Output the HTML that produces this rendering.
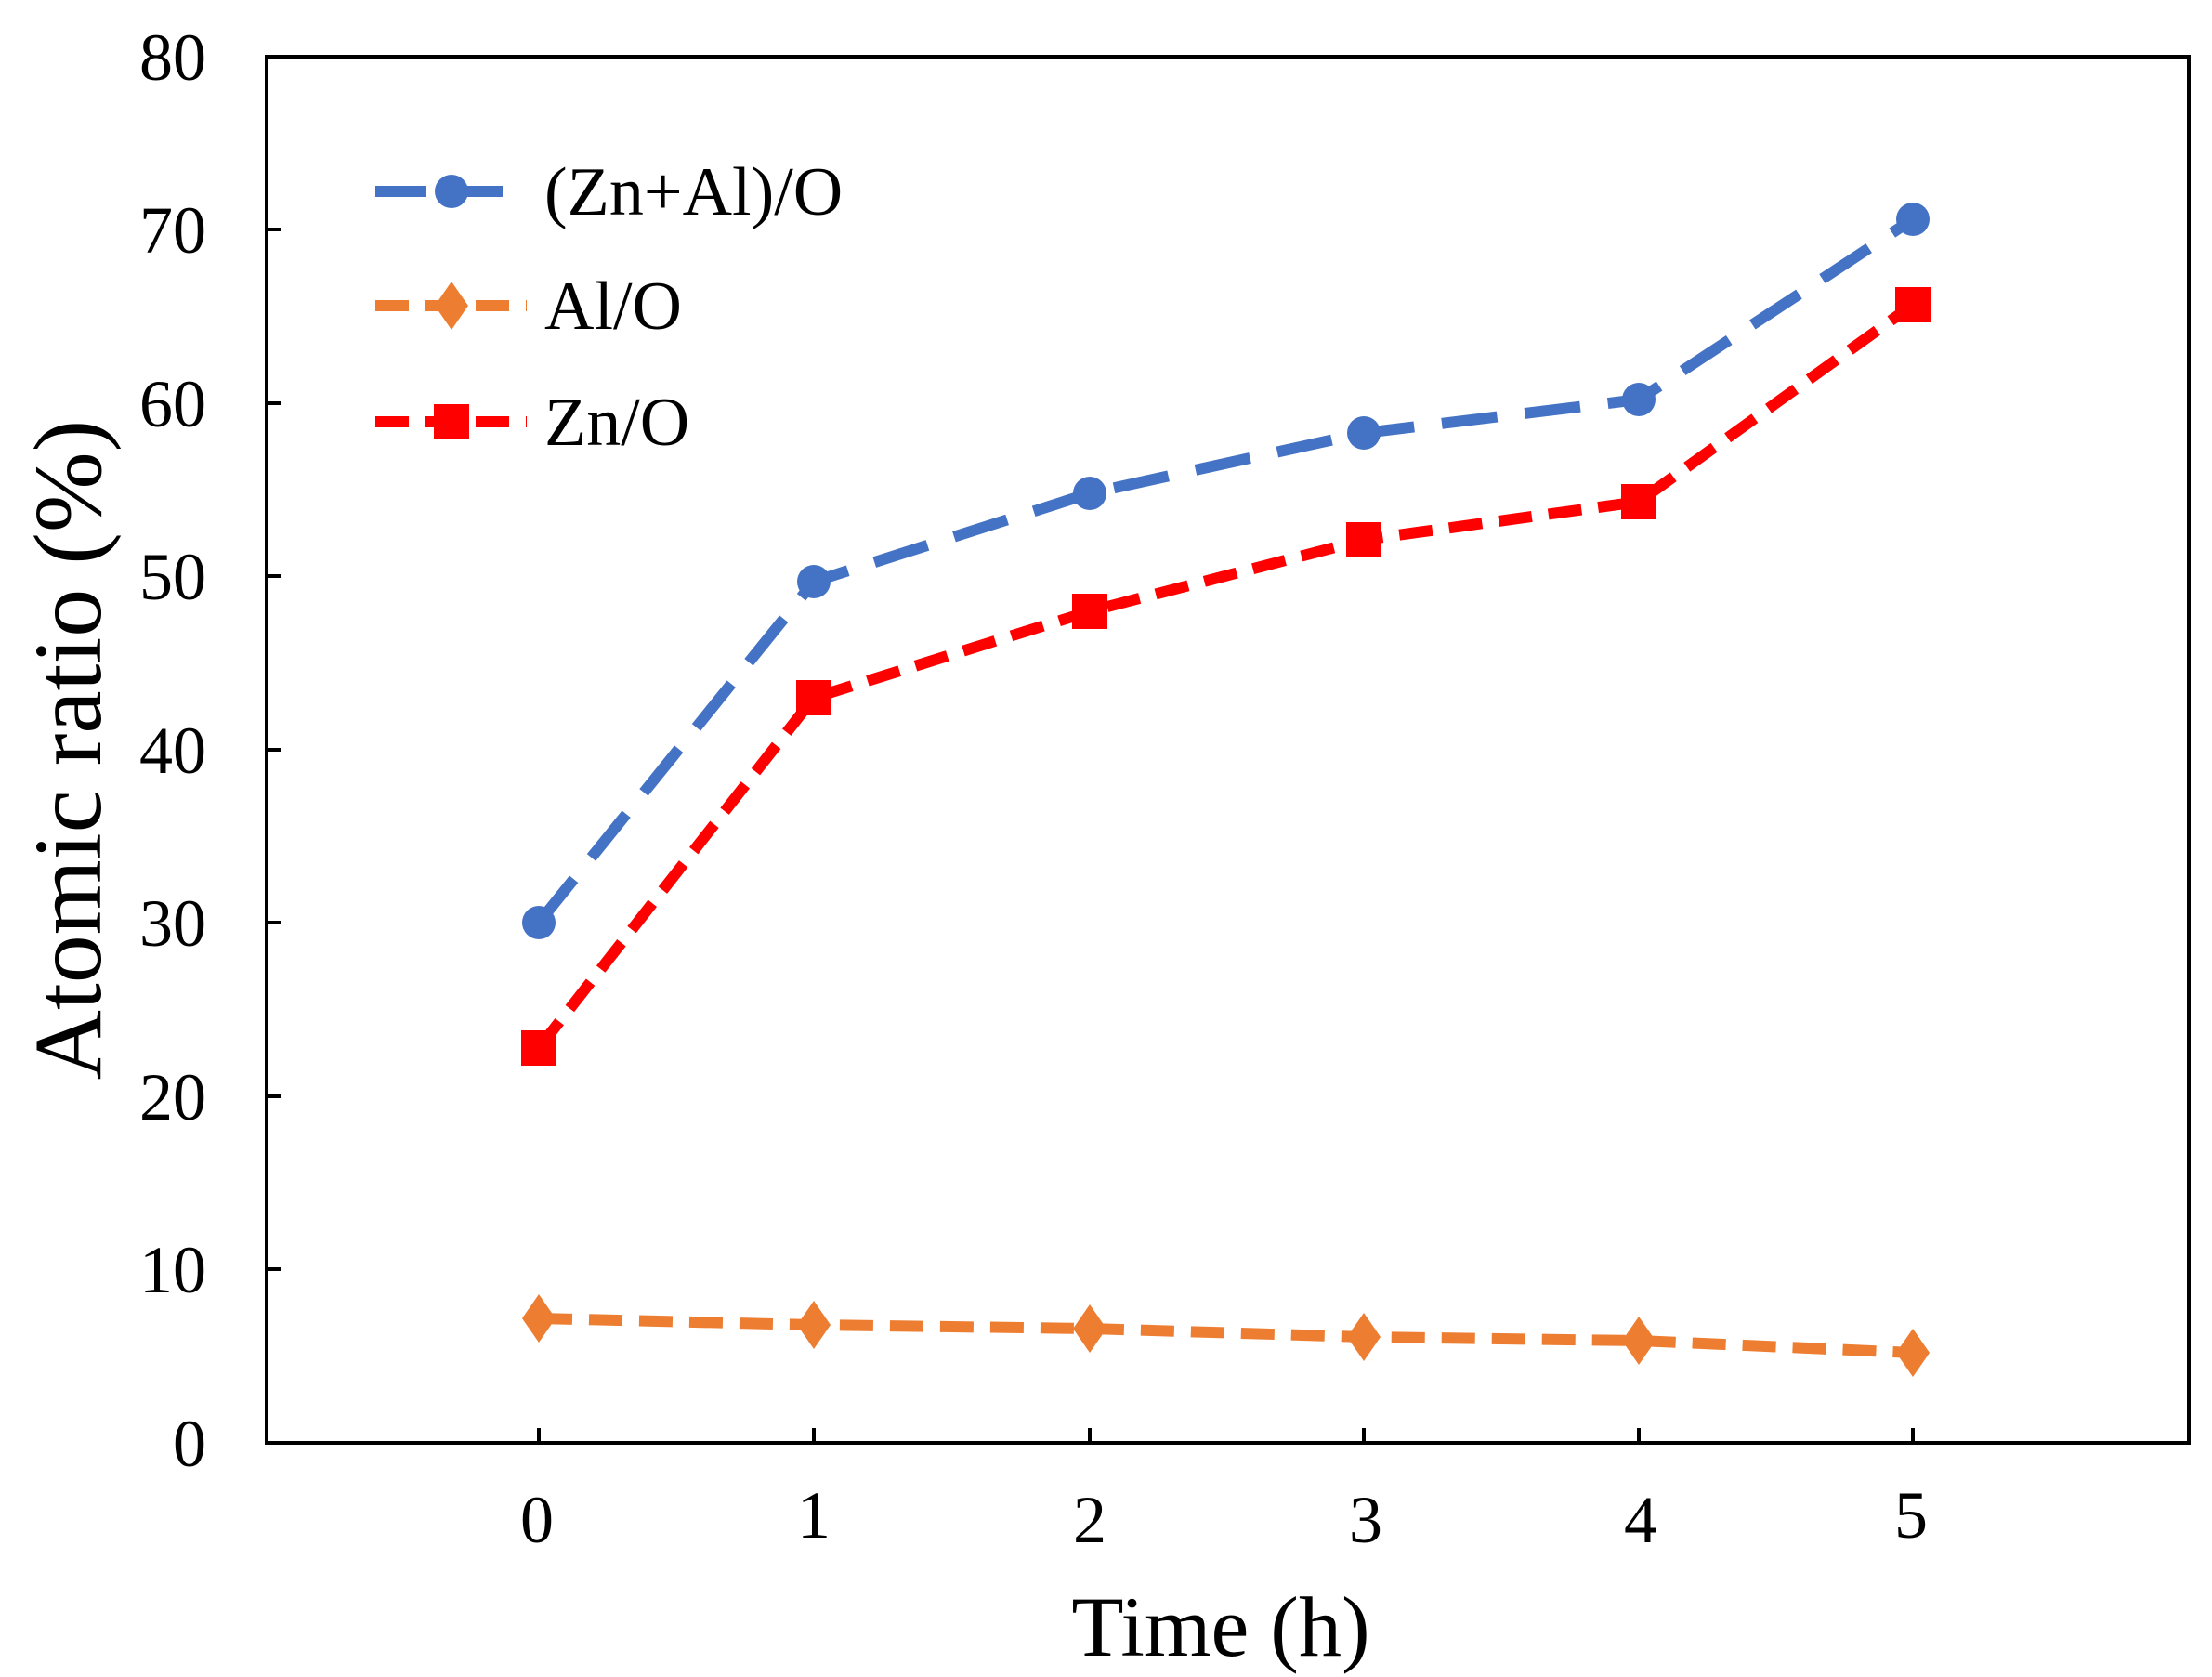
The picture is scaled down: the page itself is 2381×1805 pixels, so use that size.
<!DOCTYPE html>
<html><head><style>body{margin:0;background:#fff}svg{display:block}</style></head><body>
<svg width="2381" height="1805" xmlns="http://www.w3.org/2000/svg" font-family="Liberation Serif, serif">
<rect width="2381" height="1805" fill="#fff"/>
<rect x="287" y="61" width="2069" height="1492" fill="none" stroke="#000" stroke-width="4"/>
<g stroke="#000" stroke-width="4">
<line x1="287" y1="1366" x2="303" y2="1366"/><line x1="287" y1="1180" x2="303" y2="1180"/><line x1="287" y1="993" x2="303" y2="993"/><line x1="287" y1="807" x2="303" y2="807"/><line x1="287" y1="620" x2="303" y2="620"/><line x1="287" y1="434" x2="303" y2="434"/><line x1="287" y1="247" x2="303" y2="247"/>
<line x1="580" y1="1553" x2="580" y2="1537"/><line x1="876" y1="1553" x2="876" y2="1537"/><line x1="1173" y1="1553" x2="1173" y2="1537"/><line x1="1468" y1="1553" x2="1468" y2="1537"/><line x1="1764" y1="1553" x2="1764" y2="1537"/><line x1="2059" y1="1553" x2="2059" y2="1537"/>
</g>
<g font-size="72" text-anchor="end" fill="#000">
<text x="222" y="1578">0</text><text x="222" y="1391">10</text><text x="222" y="1205">20</text><text x="222" y="1018">30</text><text x="222" y="832">40</text><text x="222" y="645">50</text><text x="222" y="459">60</text><text x="222" y="272">70</text><text x="222" y="86">80</text>
</g>
<g font-size="72" text-anchor="middle" fill="#000">
<text x="578" y="1660">0</text><text x="876" y="1655">1</text><text x="1173" y="1660">2</text><text x="1470" y="1660">3</text><text x="1766" y="1660">4</text><text x="2057" y="1655">5</text>
</g>
<text x="1314" y="1782" font-size="92" text-anchor="middle">Time (h)</text>
<text transform="translate(108,807) rotate(-90)" font-size="104" text-anchor="middle">Atomic ratio (%)</text>
<g fill="none" stroke-width="12">
<polyline stroke="#4472C4" stroke-dasharray="60,30" points="580,993 876,626 1173,531 1468,466 1764,430 2059,236"/>
<polyline stroke="#ED7D31" stroke-dasharray="36,18" points="580,1419 876,1426 1173,1430 1468,1439 1764,1443 2059,1456"/>
<polyline stroke="#FF0000" stroke-dasharray="36,18" points="580,1128 876,751 1173,658 1468,581 1764,540 2059,328"/>
</g>
<g fill="#4472C4"><circle cx="580" cy="993" r="18"/><circle cx="876" cy="626" r="18"/><circle cx="1173" cy="531" r="18"/><circle cx="1468" cy="466" r="18"/><circle cx="1764" cy="430" r="18"/><circle cx="2059" cy="236" r="18"/></g>
<g fill="#ED7D31">
<path d="M580,1393l18,26l-18,26l-18,-26z"/><path d="M876,1400l18,26l-18,26l-18,-26z"/><path d="M1173,1404l18,26l-18,26l-18,-26z"/><path d="M1468,1413l18,26l-18,26l-18,-26z"/><path d="M1764,1417l18,26l-18,26l-18,-26z"/><path d="M2059,1430l18,26l-18,26l-18,-26z"/>
</g>
<g fill="#FF0000"><rect x="561" y="1109" width="38" height="38"/><rect x="857" y="732" width="38" height="38"/><rect x="1154" y="639" width="38" height="38"/><rect x="1449" y="562" width="38" height="38"/><rect x="1745" y="521" width="38" height="38"/><rect x="2040" y="309" width="38" height="38"/></g>
<g stroke-width="12">
<line x1="404" y1="206" x2="567" y2="206" stroke="#4472C4" stroke-dasharray="55,27"/>
<circle cx="486" cy="206" r="18" fill="#4472C4"/>
<line x1="404" y1="329" x2="567" y2="329" stroke="#ED7D31" stroke-dasharray="36,18"/>
<path d="M486,303l18,26l-18,26l-18,-26z" fill="#ED7D31"/>
<line x1="404" y1="454" x2="567" y2="454" stroke="#FF0000" stroke-dasharray="36,18"/>
<rect x="467" y="435" width="38" height="38" fill="#FF0000"/>
</g>
<g font-size="74" fill="#000">
<text x="586" y="231">(Zn+Al)/O</text><text x="586" y="354">Al/O</text><text x="586" y="479">Zn/O</text>
</g>
</svg>
</body></html>
